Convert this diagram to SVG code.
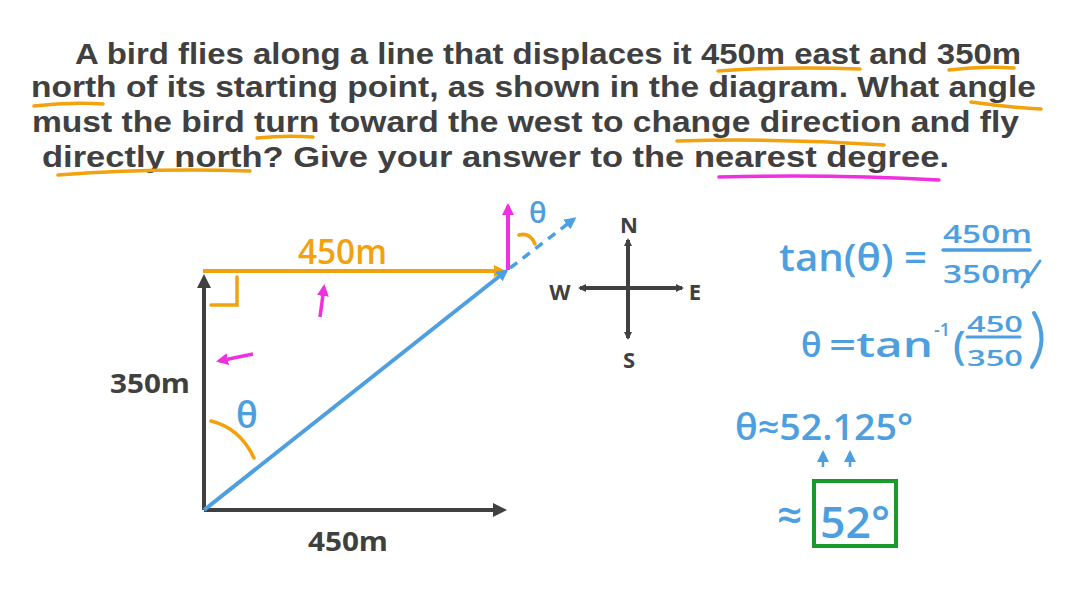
<svg xmlns="http://www.w3.org/2000/svg" width="1088" height="612" viewBox="0 0 1088 612">
<style>
.q{font-family:"Liberation Sans",Arial,sans-serif;font-weight:700;font-size:29px;fill:#404040}
.ul{stroke:#f2a20c;stroke-width:3.5;fill:none;stroke-linecap:round}
.dk{font-family:"Open Sans","Liberation Sans",sans-serif;font-weight:700;fill:#404040}
.bl{font-family:"Open Sans","Liberation Sans",sans-serif;font-weight:600;fill:#4d9fe0}
.or{font-family:"Open Sans","Liberation Sans",sans-serif;font-weight:600;fill:#f2a20c}
</style>
<defs>
<marker id="ak" markerWidth="8" markerHeight="8" refX="6" refY="4" orient="auto" markerUnits="userSpaceOnUse"><path d="M0,0 L8,4 L0,8 Z" fill="#404040"/></marker>
<marker id="ao" markerWidth="12" markerHeight="12" refX="9" refY="6" orient="auto" markerUnits="userSpaceOnUse"><path d="M0,0 L12,6 L0,12 Z" fill="#f2a20c"/></marker>
<marker id="ab" markerWidth="12" markerHeight="12" refX="9" refY="6" orient="auto" markerUnits="userSpaceOnUse"><path d="M0,0 L12,6 L0,12 Z" fill="#4d9fe0"/></marker>
<marker id="am" markerWidth="12" markerHeight="12" refX="9" refY="6" orient="auto" markerUnits="userSpaceOnUse"><path d="M0,0 L12,6 L0,12 Z" fill="#f030e0"/></marker>
<marker id="ak2" markerWidth="14" markerHeight="14" refX="10" refY="7" orient="auto" markerUnits="userSpaceOnUse"><path d="M0,0 L14,7 L0,14 Z" fill="#404040"/></marker>
</defs>
<rect width="1088" height="612" fill="#ffffff"/>

<g id="question">
<text class="q" x="75" y="64" textLength="946" lengthAdjust="spacingAndGlyphs">A bird flies along a line that displaces it 450m east and 350m</text>
<text class="q" x="31" y="97" textLength="1005" lengthAdjust="spacingAndGlyphs">north of its starting point, as shown in the diagram. What angle</text>
<text class="q" x="32" y="132" textLength="987" lengthAdjust="spacingAndGlyphs">must the bird turn toward the west to change direction and fly</text>
<text class="q" x="42" y="167" textLength="907" lengthAdjust="spacingAndGlyphs">directly north? Give your answer to the nearest degree.</text>
<path class="ul" d="M718,71 Q790,66 860,69"/>
<path class="ul" d="M949,70 Q980,66 1014,68"/>
<path class="ul" d="M34,106 Q68,102 103,104"/>
<path class="ul" d="M971,102 Q1005,107 1041,109"/>
<path class="ul" d="M257,138 Q285,135 313,137"/>
<path class="ul" d="M677,141 Q780,138 884,145"/>
<path class="ul" d="M58,175 Q150,168 250,171"/>
<path d="M719,177 Q830,174 939,180" stroke="#f030e0" stroke-width="3.5" fill="none" stroke-linecap="round"/>
</g>

<g id="connectors">
<line x1="204" y1="510" x2="204" y2="278" stroke="#404040" stroke-width="4" marker-end="url(#ak2)"/>
<line x1="204" y1="510" x2="503" y2="510" stroke="#404040" stroke-width="4" marker-end="url(#ak2)"/>
<line x1="203" y1="271" x2="503" y2="271" stroke="#f2a20c" stroke-width="4" marker-end="url(#ao)"/>
<path d="M237,277 L237,305 L211,305" stroke="#f2a20c" stroke-width="3.5" fill="none" stroke-linecap="round"/>
<line x1="204" y1="510" x2="506" y2="271" stroke="#4d9fe0" stroke-width="4" marker-end="url(#ab)"/>
<line x1="510" y1="268" x2="574" y2="219" stroke="#4d9fe0" stroke-width="3.5" stroke-dasharray="9,7" marker-end="url(#ab)"/>
<line x1="508" y1="270" x2="508" y2="206" stroke="#f030e0" stroke-width="4" marker-end="url(#am)"/>
<path d="M519,235 Q530,232 535,244" stroke="#f2a20c" stroke-width="3.5" fill="none" stroke-linecap="round"/>
<line x1="320" y1="317" x2="324" y2="287" stroke="#f030e0" stroke-width="3.5" marker-end="url(#am)"/>
<line x1="253" y1="354" x2="219" y2="361" stroke="#f030e0" stroke-width="3.5" marker-end="url(#am)"/>
<path d="M211,421 Q240,428 254,458" stroke="#f2a20c" stroke-width="3.5" fill="none" stroke-linecap="round"/>
</g>

<g id="labels">
<text class="or" x="298" y="264" font-size="34" textLength="89" lengthAdjust="spacingAndGlyphs">450m</text>
<text class="dk" x="110" y="393" font-size="26" textLength="80" lengthAdjust="spacingAndGlyphs">350m</text>
<text class="bl" x="236" y="428" font-size="36">θ</text>
<text class="dk" x="308" y="551" font-size="26" textLength="80" lengthAdjust="spacingAndGlyphs">450m</text>
<text class="bl" x="529" y="223" font-size="29">θ</text>
</g>

<g id="compass">
<line x1="628" y1="338" x2="628" y2="240" stroke="#404040" stroke-width="4" marker-end="url(#ak)"/>
<line x1="628" y1="240" x2="628" y2="338" stroke="#404040" stroke-width="4" marker-end="url(#ak)"/>
<line x1="580" y1="288" x2="682" y2="288" stroke="#404040" stroke-width="4" marker-end="url(#ak)"/>
<line x1="682" y1="288" x2="580" y2="288" stroke="#404040" stroke-width="4" marker-end="url(#ak)"/>
<text class="dk" x="629" y="233" font-size="22" text-anchor="middle">N</text>
<text class="dk" x="629" y="368" font-size="22" text-anchor="middle">S</text>
<text class="dk" x="560" y="300" font-size="22" text-anchor="middle">W</text>
<text class="dk" x="695" y="300" font-size="22" text-anchor="middle">E</text>
</g>

<g id="work">
<text class="bl" x="779" y="271" font-size="38" textLength="148" lengthAdjust="spacingAndGlyphs">tan(θ) =</text>
<text class="bl" x="943" y="243" font-size="26" textLength="89" lengthAdjust="spacingAndGlyphs">450m</text>
<line x1="943" y1="250" x2="1030" y2="250" stroke="#4d9fe0" stroke-width="3.5" stroke-linecap="round"/>
<text class="bl" x="943" y="283" font-size="26" textLength="89" lengthAdjust="spacingAndGlyphs">350m</text>
<line x1="1022" y1="287" x2="1040" y2="261" stroke="#4d9fe0" stroke-width="3" stroke-linecap="round"/>

<text class="bl" x="801" y="357" font-size="34">θ</text>
<text class="bl" x="829" y="357" font-size="34" textLength="104" lengthAdjust="spacingAndGlyphs">=tan</text>
<text class="bl" x="934" y="336" font-size="18">-1</text>
<text class="bl" x="953" y="360" font-size="40">(</text>
<text class="bl" x="967" y="332" font-size="22" textLength="56" lengthAdjust="spacingAndGlyphs">450</text>
<line x1="967" y1="337" x2="1020" y2="337" stroke="#4d9fe0" stroke-width="3" stroke-linecap="round"/>
<text class="bl" x="967" y="366" font-size="22" textLength="56" lengthAdjust="spacingAndGlyphs">350</text>
<path d="M1034,313 Q1050,340 1032,367" stroke="#4d9fe0" stroke-width="4" fill="none" stroke-linecap="round"/>

<text class="bl" x="735" y="440" font-size="36" textLength="178" lengthAdjust="spacingAndGlyphs">θ≈52.125°</text>
<line x1="823" y1="467" x2="823" y2="453" stroke="#4d9fe0" stroke-width="2.5" marker-end="url(#ab)"/>
<line x1="850" y1="467" x2="850" y2="453" stroke="#4d9fe0" stroke-width="2.5" marker-end="url(#ab)"/>

<text class="bl" x="777" y="531" font-size="44">≈</text>
<rect x="814" y="481" width="82" height="65" fill="none" stroke="#1a9a2a" stroke-width="4"/>
<text class="bl" x="820" y="538" font-size="44" textLength="70" lengthAdjust="spacingAndGlyphs">52°</text>
</g>
</svg>
